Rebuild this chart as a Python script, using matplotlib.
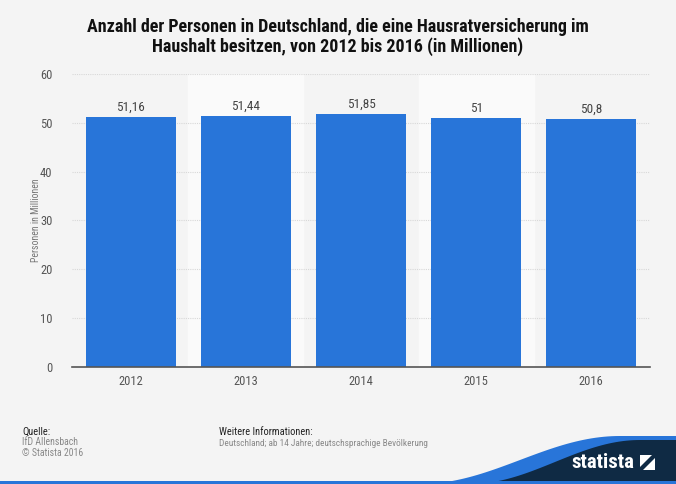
import matplotlib.pyplot as plt
import numpy as np
from matplotlib.patches import Polygon

years = ['2012', '2013', '2014', '2015', '2016']
values = [51.16, 51.44, 51.85, 51.0, 50.8]
value_labels = ['51,16', '51,44', '51,85', '51', '50,8']

plt.rcParams['font.family'] = ['Roboto Condensed', 'DejaVu Sans']

fig = plt.figure(figsize=(6.76, 4.84), dpi=100)
fig.patch.set_facecolor('#f4f4f4')
ax = fig.add_axes([72/676, 1 - 367/484, 578/676, 293/484])
ax.set_facecolor('#f4f4f4')

x = np.arange(len(years))
# lighter bands behind every second column
for i in x:
    if i % 2 == 1:
        ax.axvspan(i - 0.5, i + 0.5, color='#fafafa', zorder=0)

bars = ax.bar(x, values, width=0.78, color='#2875d9', zorder=3)
for xi, v, lab in zip(x, values, value_labels):
    ax.text(xi, v + 0.7, lab, ha='center', va='bottom', fontsize=9.5, color='#444444')

ax.set_xlim(-0.51, 4.51)
ax.set_ylim(0, 60)
ax.set_yticks(range(0, 61, 10))
ax.set_xticks(x)
ax.set_xticklabels(years)
ax.tick_params(axis='both', length=0, labelsize=9, colors='#555555')
ax.tick_params(axis='y', pad=14)
ax.tick_params(axis='x', pad=6)
ax.yaxis.grid(True, color='#d8d8d8', linestyle=(0, (1, 1)), linewidth=0.8, zorder=1)
for s in ['top', 'right', 'left']:
    ax.spines[s].set_visible(False)
ax.spines['bottom'].set_color('#555555')
ax.spines['bottom'].set_linewidth(1.2)
ax.spines['bottom'].set_zorder(4)
ax.set_ylabel('Personen in Millionen', fontsize=7, color='#777777', labelpad=-1)

fig.text(0.5, 1 - 27/484, 'Anzahl der Personen in Deutschland, die eine Hausratversicherung im',
         ha='center', va='center', fontsize=13, fontweight='bold', color='#111111')
fig.text(0.5, 1 - 47/484, 'Haushalt besitzen, von 2012 bis 2016 (in Millionen)',
         ha='center', va='center', fontsize=13, fontweight='bold', color='#111111')

# footer
fig.text(22/676, 1 - 432/484, 'Quelle:', fontsize=7.5, color='#222222', va='center')
fig.text(22/676, 1 - 442/484, 'IfD Allensbach', fontsize=7, color='#888888', va='center')
fig.text(22/676, 1 - 453/484, '© Statista 2016', fontsize=7, color='#888888', va='center')
fig.text(219/676, 1 - 432/484, 'Weitere Informationen:', fontsize=7.5, color='#222222', va='center')
fig.text(219/676, 1 - 444/484, 'Deutschland; ab 14 Jahre; deutschsprachige Bevölkerung',
         fontsize=6.7, color='#888888', va='center')

# statista swoosh
t = np.linspace(0, 1, 50)
def curve(x0, x1, y0, y1):
    s = (1 - np.cos(np.pi * t)) / 2
    return x0 + (x1 - x0) * t, y0 + (y1 - y0) * s

bx, by = curve(420, 620, 484, 436)
blue = list(zip(bx / 676, 1 - by / 484)) + [(1, 1 - 436/484), (1, 0)]
fig.patches.append(Polygon(blue, closed=True, transform=fig.transFigure,
                           facecolor='#2875d9', edgecolor='none'))
nx, ny = curve(470, 640, 484, 440)
navy = list(zip(nx / 676, 1 - ny / 484)) + [(1, 1 - 440/484), (1, 0)]
fig.patches.append(Polygon(navy, closed=True, transform=fig.transFigure,
                           facecolor='#0f2a44', edgecolor='none'))
fig.patches.append(Polygon([(0, 0), (1, 0), (1, 3/484), (0, 3/484)], closed=True,
                           transform=fig.transFigure, facecolor='#2875d9', edgecolor='none'))
fig.text(603/676, 1 - 462/484, 'statista', fontsize=15, fontweight='bold', color='white',
         ha='center', va='center')
fig.patches.append(Polygon([(640/676, 1 - 470/484), (655/676, 1 - 470/484),
                            (655/676, 1 - 455/484), (640/676, 1 - 455/484)], closed=True,
                           transform=fig.transFigure, facecolor='white', edgecolor='none'))
fig.patches.append(Polygon([(640/676, 1 - 467/484), (652/676, 1 - 455/484),
                            (655/676, 1 - 455/484), (655/676, 1 - 458/484),
                            (643/676, 1 - 470/484), (640/676, 1 - 470/484)], closed=True,
                           transform=fig.transFigure, facecolor='#0f2a44', edgecolor='none'))

fig.savefig('out.png', dpi=100, facecolor=fig.get_facecolor())
